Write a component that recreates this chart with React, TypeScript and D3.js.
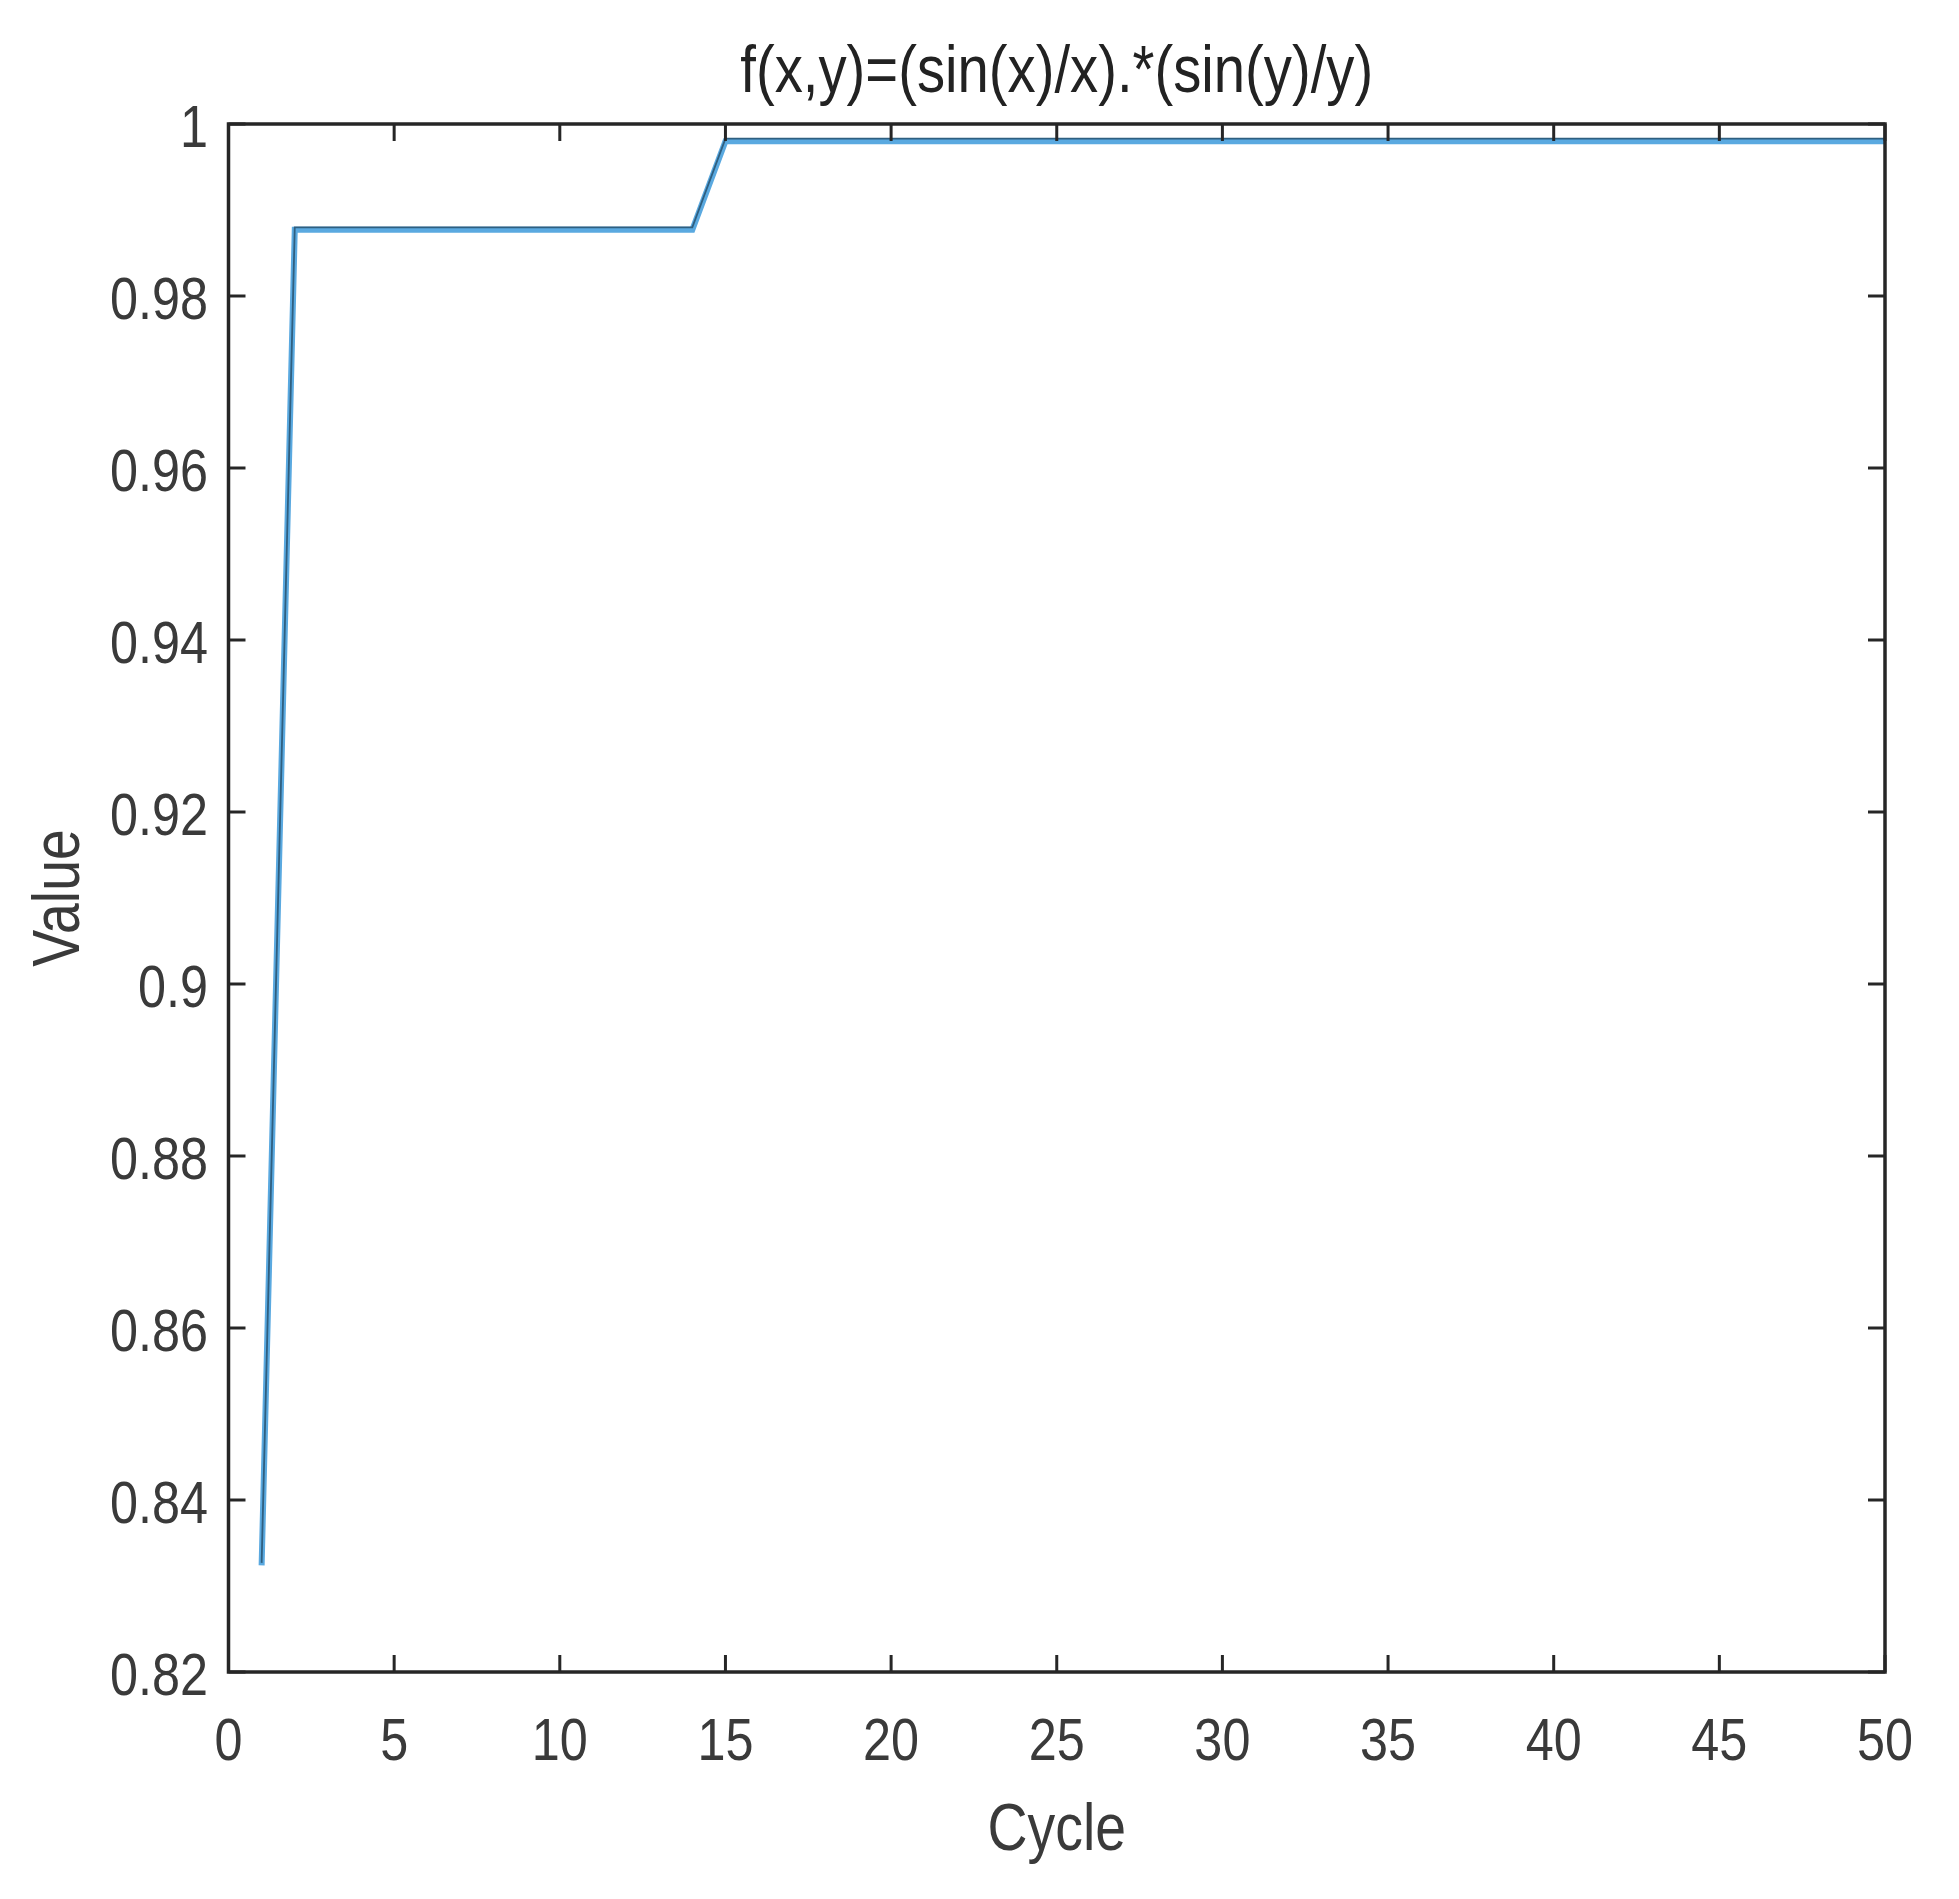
import React from 'react';
import * as d3 from 'd3';

const cycles = [
  1, 2, 3, 4, 5, 6, 7, 8, 9, 10, 11, 12, 13, 14, 15, 16, 17, 18, 19, 20, 21, 22, 23, 24, 25,
  26, 27, 28, 29, 30, 31, 32, 33, 34, 35, 36, 37, 38, 39, 40, 41, 42, 43, 44, 45, 46, 47, 48, 49, 50,
];
const values = [
  0.8324, 0.9877, 0.9877, 0.9877, 0.9877, 0.9877, 0.9877, 0.9877, 0.9877, 0.9877, 0.9877, 0.9877, 0.9877, 0.9877,
  0.998, 0.998, 0.998, 0.998, 0.998, 0.998, 0.998, 0.998, 0.998, 0.998, 0.998, 0.998, 0.998, 0.998, 0.998, 0.998,
  0.998, 0.998, 0.998, 0.998, 0.998, 0.998, 0.998, 0.998, 0.998, 0.998, 0.998, 0.998, 0.998, 0.998, 0.998, 0.998,
  0.998, 0.998, 0.998, 0.998,
];
const xTicks = [0, 5, 10, 15, 20, 25, 30, 35, 40, 45, 50];
const yTicks = [0.82, 0.84, 0.86, 0.88, 0.9, 0.92, 0.94, 0.96, 0.98, 1];

const title = 'f(x,y)=(sin(x)/x).*(sin(y)/y)';
const xLabel = 'Cycle';
const yLabel = 'Value';

const W = 1959;
const H = 1899;
const margin = { top: 124, right: 74, bottom: 227, left: 228.5 };
const font = '"Liberation Sans", Arial, sans-serif';
// the source font is a condensed Helvetica; squeeze the regular one to match
const squeeze = 0.84;

type LabelProps = {
  x: number,
  y: number,
  size: number,
  anchor: string,
  fill: string,
  rotate?: number,
  dy?: string,
  children: React.ReactNode
}

const Label: React.FC<LabelProps> = ({ x, y, size, anchor, fill, rotate = 0, dy, children }) => (
  <g transform={`translate(${x},${y}) rotate(${rotate}) scale(${squeeze},1)`}>
    <text textAnchor={anchor} fontSize={size} fill={fill} dy={dy}>{children}</text>
  </g>
);

const App: React.FC = () => {
  const x = d3.scaleLinear().domain([0, 50]).range([margin.left, W - margin.right]);
  const y = d3.scaleLinear().domain([0.82, 1]).range([H - margin.bottom, margin.top]);

  const pts = cycles.map((c, i) => [c, values[i]] as [number, number]);
  const line = d3.line<[number, number]>()
    .x(d => x(d[0]))
    .y(d => y(d[1]));
  const path = line(pts) || '';

  const x0 = x(0), x1 = x(50), y0 = y(0.82), y1 = y(1);
  const tick = 17;
  const axisColor = '#262626';
  const textColor = '#3a3a3a';

  return (
    <svg width={W} height={H} style={{ position: 'absolute', left: 0, top: 0, background: '#fff' }}
      fontFamily={font}>
      {/* series */}
      <path d={path} fill="none" stroke="#5aa9e0" strokeWidth={6} />
      <path d={path} fill="none" stroke="#2f5f80" strokeWidth={1.8} transform="translate(0,-2.5)" />

      {/* box */}
      <rect x={x0} y={y1} width={x1 - x0} height={y0 - y1} fill="none" stroke={axisColor} strokeWidth={3.5} />

      {/* x ticks */}
      {xTicks.map(t => (
        <g key={'x' + t}>
          <line x1={x(t)} x2={x(t)} y1={y0} y2={y0 - tick} stroke={axisColor} strokeWidth={3} />
          <line x1={x(t)} x2={x(t)} y1={y1} y2={y1 + tick} stroke={axisColor} strokeWidth={3} />
          <Label x={x(t)} y={1760} size={60} anchor="middle" fill={textColor}>{t}</Label>
        </g>
      ))}

      {/* y ticks */}
      {yTicks.map(t => (
        <g key={'y' + t}>
          <line x1={x0} x2={x0 + tick} y1={y(t)} y2={y(t)} stroke={axisColor} strokeWidth={3} />
          <line x1={x1} x2={x1 - tick} y1={y(t)} y2={y(t)} stroke={axisColor} strokeWidth={3} />
          <Label x={208} y={y(t)} dy="0.38em" size={60} anchor="end" fill={textColor}>
            {d3.format('~g')(t)}
          </Label>
        </g>
      ))}

      <Label x={(x0 + x1) / 2} y={92} size={67} anchor="middle" fill="#222">{title}</Label>
      <Label x={(x0 + x1) / 2} y={1850} size={66} anchor="middle" fill={textColor}>{xLabel}</Label>
      <Label x={79} y={(y0 + y1) / 2} rotate={-90} size={66} anchor="middle" fill={textColor}>{yLabel}</Label>
    </svg>
  );
};

export default App;
